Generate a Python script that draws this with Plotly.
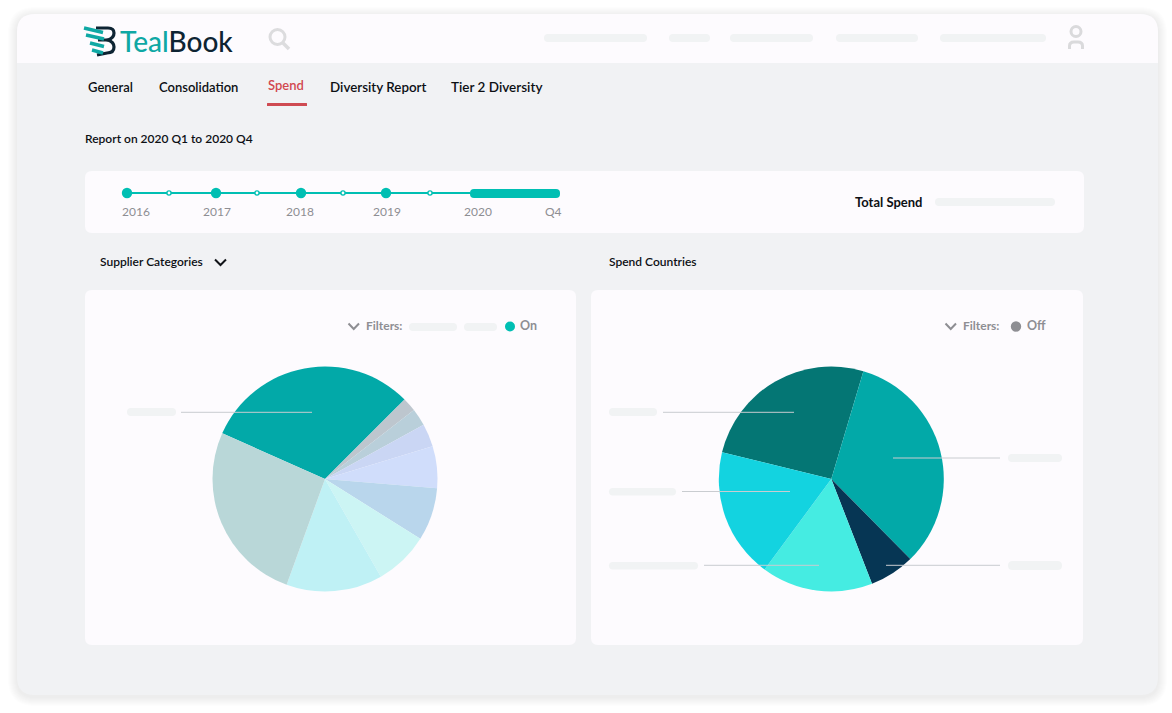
import plotly.graph_objects as go

W, H = 1172, 713
FONT = "Lato"
TEAL = "#00BFB3"
GRAY = "#8E8E93"
PILL = "#F1F3F4"
PANEL = "#FDFBFE"
LEADER = "#C9CCD0"

# Supplier Categories pie (labels are blanked out in the original)
supplier_labels = ["Category A", "Category B", "Category C", "Category D", "Category E",
                   "Category F", "Category G", "Category H", "Category I"]
supplier_values = [30.8, 2.0, 2.5, 3.3, 6.0, 7.6, 7.8, 13.8, 26.1]
supplier_colors = ["#02A9A8", "#BDC6CE", "#B9CFDA", "#CAD6F4", "#D0DDFB",
                   "#B9D6EC", "#CCF5F4", "#BFF1F5", "#B9D7D8"]

# Spend Countries pie
country_labels = ["Country A", "Country B", "Country C", "Country D", "Country E"]
country_values = [25.8, 33.0, 6.5, 16.0, 18.7]
country_colors = ["#047674", "#02A9A8", "#063654", "#45ECE2", "#13D3E0"]

# Tabs and slider
tab_labels = ["General", "Consolidation", "Diversity Report", "Tier 2 Diversity"]
tab_x = [87, 158, 329, 450]
tab_size = [13, 13, 13.4, 13.5]
slider_labels = ["2016", "2017", "2018", "2019", "2020", "Q4"]
slider_label_x = [121, 202, 285, 372, 463, 543.5]
slider_big = [127, 216, 301, 386]
slider_small = [169, 257, 343, 430]

shapes = []
notes = []


def px(x):
    return x / W


def py(y):
    return 1 - y / H


def rounded(x0, y0, x1, y1, r, fill, corners="tl tr br bl", layer="below"):
    # rounded rectangle as a path in paper coordinates
    tl = r if "tl" in corners else 0
    tr = r if "tr" in corners else 0
    br = r if "br" in corners else 0
    bl = r if "bl" in corners else 0
    d = f"M {px(x0 + tl)} {py(y0)} L {px(x1 - tr)} {py(y0)} "
    d += f"Q {px(x1)} {py(y0)} {px(x1)} {py(y0 + tr)} L {px(x1)} {py(y1 - br)} "
    d += f"Q {px(x1)} {py(y1)} {px(x1 - br)} {py(y1)} L {px(x0 + bl)} {py(y1)} "
    d += f"Q {px(x0)} {py(y1)} {px(x0)} {py(y1 - bl)} L {px(x0)} {py(y0 + tl)} "
    d += f"Q {px(x0)} {py(y0)} {px(x0 + tl)} {py(y0)} Z"
    shapes.append(dict(type="path", xref="paper", yref="paper", path=d, fillcolor=fill,
                       line=dict(width=0), layer=layer))


def pill(x0, x1, y0, y1):
    rounded(x0, y0, x1, y1, (y1 - y0) / 2, PILL)


def seg(x0, y0, x1, y1, color, width=1, layer="below"):
    shapes.append(dict(type="line", xref="paper", yref="paper", x0=px(x0), y0=py(y0), x1=px(x1), y1=py(y1),
                       line=dict(color=color, width=width), layer=layer))


def dot(cx, cy, r, fill, line=None, lw=0):
    shapes.append(dict(type="circle", xref="paper", yref="paper", x0=px(cx - r), x1=px(cx + r),
                       y0=py(cy + r), y1=py(cy - r), fillcolor=fill,
                       line=dict(color=line or fill, width=lw), layer="below"))


def poly(points, color, width, fill="rgba(0,0,0,0)"):
    # open stroked curve; each entry is a path command with pixel points
    d = ""
    for cmd, *pts in points:
        d += cmd + " " + " ".join(f"{px(a)} {py(b)}" for a, b in pts) + " "
    shapes.append(dict(type="path", xref="paper", yref="paper", path=d, fillcolor=fill,
                       line=dict(color=color, width=width), layer="below"))


def label(x, y, text, size=13, color="#0D1014", weight=400, anchor="left"):
    notes.append(dict(xref="paper", yref="paper", x=px(x), y=py(y), text=text, showarrow=False,
                      xanchor=anchor, yanchor="middle", borderpad=0,
                      font=dict(family=FONT, size=size, color=color, weight=weight)))


def chevron(x0, x1, y, color, width=2):
    mid = (x0 + x1) / 2
    poly([("M", (x0, y - 3)), ("L", (mid, y + 2.5)), ("L", (x1, y - 3))], color, width)


# window shadow
for i in range(9, 0, -1):
    rounded(17 - i, 14 - i + 2, 1158 + i, 695 + i + 2, 18 + i, "rgba(60,60,70,0.011)")

# window
rounded(17, 14, 1158, 695, 18, "#F1F2F4")
rounded(17, 14, 1158, 63, 18, PANEL, corners="tl tr")

# logo
poly([("M", (96, 28)), ("L", (108, 28)), ("Q", (114, 28), (114, 33)), ("Q", (114, 38), (108, 40)),
      ("Q", (114, 42), (114, 47)), ("Q", (114, 53), (107, 53)), ("L", (97, 55))], "#0E2433", 3.2)
seg(98, 40, 108, 40, "#0E2433", 3)
seg(84, 28, 103, 32.5, "#0FA8A4", 3.4)
seg(86, 35, 104, 39, "#0FA8A4", 3.4)
seg(90, 43, 104, 46.5, "#0FA8A4", 3.4)
seg(92, 50, 103, 53, "#0FA8A4", 3.4)
label(119, 41, '<span style="color:#0FA8A4">Teal</span><span style="color:#0E2433">Book</span>', size=28, weight=500)

# search and user icons
dot(277.5, 37, 7.5, "rgba(0,0,0,0)", "#DCDCDE", 3)
seg(283, 43, 289, 49, "#DCDCDE", 3.5)
dot(1076, 31.5, 5, "rgba(0,0,0,0)", "#DADADC", 3)
poly([("M", (1069.5, 49)), ("L", (1069.5, 46)), ("Q", (1069.5, 42), (1074, 42)), ("L", (1078, 42)),
      ("Q", (1082.5, 42), (1082.5, 46)), ("L", (1082.5, 49))], "#DADADC", 3)

# header placeholders
for a, b in [(544, 647), (669, 710), (730, 813), (836, 918), (940, 1046)]:
    pill(a, b, 34, 42)

# tabs
for x, t, s in zip(tab_x, tab_labels, tab_size):
    label(x, 87, t, size=s, weight=600)
label(267, 85, "Spend", size=13, color="#D2484F", weight=600)
rounded(267, 103, 307, 106, 0.5, "#CF4B52")
label(84, 139, "Report on 2020 Q1 to 2020 Q4", size=12, weight=600)

# slider card
rounded(85, 171, 1084, 233, 7, PANEL)
seg(127, 193, 470, 193, TEAL, 2)
rounded(470, 189, 560, 198, 4, TEAL)
for x in slider_big:
    dot(x, 193, 5.2, TEAL)
for x in slider_small:
    dot(x, 193, 2.1, "#FFFFFF", TEAL, 1.4)
for x, t in zip(slider_label_x, slider_labels):
    label(x, 211, t, size=12, color=GRAY)
label(854, 202, "Total Spend", size=13, weight=700)
pill(935, 1055, 198, 206)

# section titles
label(99, 262, "Supplier Categories", size=12, weight=600)
chevron(215, 226, 262.5, "#111418", 2)
label(608, 262, "Spend Countries", size=12, weight=600)

# chart panels
rounded(85, 290, 576, 645, 7, PANEL)
rounded(591, 290, 1083, 645, 7, PANEL)

# filter rows
chevron(348.5, 359, 326.5, GRAY)
label(365, 326, "Filters:", size=12, color=GRAY, weight=700)
pill(409, 457, 323, 331)
pill(464, 497, 323, 331)
dot(510, 326.5, 5, TEAL)
label(519, 326, "On", size=12.5, color=GRAY, weight=700)

chevron(945.5, 956, 326.5, GRAY)
label(962, 326, "Filters:", size=12, color=GRAY, weight=700)
dot(1016, 326.5, 5.2, GRAY)
label(1026, 326, "Off", size=12.5, color=GRAY, weight=700)

# leader lines and blanked labels
pill(127, 176, 408, 416)
seg(181, 412.3, 312, 412.3, LEADER, 1, layer="above")
pill(609, 657, 408, 416)
seg(663, 412.3, 794, 412.3, LEADER, 1, layer="above")
pill(609, 676, 488, 495.5)
seg(682, 491.5, 790, 491.5, LEADER, 1, layer="above")
pill(609, 698, 562, 569.5)
seg(704, 565.3, 819, 565.3, LEADER, 1, layer="above")
pill(1008, 1062, 454, 462)
seg(893, 458, 1000, 458, LEADER, 1, layer="above")
pill(1008, 1062, 561, 570)
seg(886, 565.3, 1000, 565.3, LEADER, 1, layer="above")


def pie_trace(labels, values, colors, cx, cy, r, rotation):
    return go.Pie(labels=labels, values=values, sort=False, direction="clockwise", rotation=rotation,
                  marker=dict(colors=colors, line=dict(width=0)), textinfo="none", hoverinfo="label+percent",
                  showlegend=False,
                  domain=dict(x=[px(cx - r), px(cx + r)], y=[py(cy + r), py(cy - r)]))


fig = go.Figure()
fig.add_trace(pie_trace(supplier_labels, supplier_values, supplier_colors, 325, 479, 112.5, 294))
fig.add_trace(pie_trace(country_labels, country_values, country_colors, 831.3, 479, 112.5, 283.7))

fig.update_layout(width=W, height=H, autosize=False, margin=dict(l=0, r=0, t=0, b=0),
                  paper_bgcolor="#FFFFFF", shapes=shapes, annotations=notes)

fig.write_html("out.html", config=dict(displayModeBar=False),
               post_script="document.body.style.margin='0';document.documentElement.style.overflow='hidden';")
